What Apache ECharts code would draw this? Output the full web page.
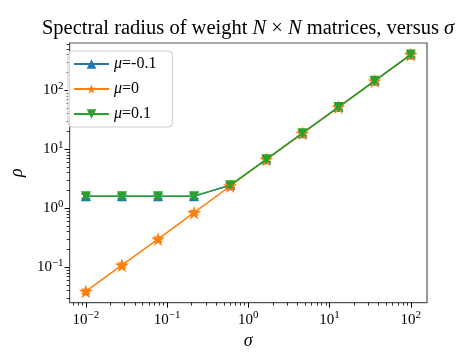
<!DOCTYPE html>
<html><head><meta charset="utf-8">
<script src="https://cdn.jsdelivr.net/npm/echarts@6/dist/echarts.min.js"></script>
<style>html,body{margin:0;padding:0;background:#fff}#c{width:474px;height:355px}</style>
</head><body><div id="c"></div>
<script>
const sigma = [0.01, 0.0278, 0.0774, 0.215, 0.599, 1.67, 4.64, 12.9, 35.9, 100];
const rhoMuNeg = [1.6, 1.6, 1.6, 1.6, 2.45, 6.75, 18.7, 51.8, 144, 402];
const rhoMu0 = [0.039, 0.108, 0.30, 0.84, 2.38, 6.7, 18.6, 51.6, 143, 400];
const rhoMuPos = [1.6, 1.6, 1.6, 1.6, 2.46, 6.75, 18.7, 51.8, 144, 402];
const errMuNeg = [0.14, 0.14, 0.14, 0.14, 0.22, 0.6, 1.7, 4.6, 13, 36];
const errMu0 = [0.0035, 0.01, 0.027, 0.075, 0.21, 0.6, 1.7, 4.6, 13, 36];
const errMuPos = [0.14, 0.14, 0.14, 0.14, 0.22, 0.6, 1.7, 4.6, 13, 36];
const seriesNames = ['μ=-0.1', 'μ=0', 'μ=0.1'];
const xMajor = [0.01, 0.1, 1, 10, 100];
const yMajor = [0.1, 1, 10, 100];

function minorTicks(lo, hi) {
  const out = [];
  for (let e = lo; e <= hi; e++) for (let k = 2; k <= 9; k++) out.push(k * Math.pow(10, e));
  return out;
}
const xMinor = minorTicks(-3, 2);
const yMinor = minorTicks(-2, 2);

const colors = ['#1f77b4', '#ff7f0e', '#2ca02c'];
const star = 'path://M0,-1 L0.2245,-0.309 L0.9511,-0.309 L0.3633,0.118 L0.5878,0.809 L0,0.382 L-0.5878,0.809 L-0.3633,0.118 L-0.9511,-0.309 L-0.2245,-0.309 Z';
const serif = 'Liberation Serif';
const mathRich = {
  b: {fontFamily: serif, fontSize: 15, color: '#000'},
  s: {fontFamily: serif, fontSize: 11, color: '#000', padding: [0, 0, 9, 0]}
};
function powLabel(v) {
  const e = Math.round(Math.log10(v));
  return '{b|10}{s|' + (e < 0 ? '\u2212' + (-e) : e) + '}';
}

const xmin = Math.pow(10, -2.2), xmax = Math.pow(10, 2.2);
const ymin = Math.pow(10, -1.6), ymax = Math.pow(10, 2.8);

function errSeries(vals, errs, color, idx) {
  return {
    type: 'custom', xAxisIndex: 0, yAxisIndex: 0, silent: true, z: 2 + idx * 2,
    data: sigma.map((s, i) => [s, vals[i], errs[i]]),
    renderItem: function (params, api) {
      const x = api.value(0), y = api.value(1), e = api.value(2);
      const lo = api.coord([x, y - e]), hi = api.coord([x, y + e]);
      const cw = 4.5;
      const st = {stroke: color, lineWidth: 1.2};
      return {type: 'group', children: [
        {type: 'line', shape: {x1: lo[0], y1: lo[1], x2: hi[0], y2: hi[1]}, style: st},
        {type: 'line', shape: {x1: lo[0] - cw, y1: lo[1], x2: lo[0] + cw, y2: lo[1]}, style: st},
        {type: 'line', shape: {x1: hi[0] - cw, y1: hi[1], x2: hi[0] + cw, y2: hi[1]}, style: st}
      ]};
    }
  };
}
function lineSeries(name, vals, color, symbol, rot, size, idx) {
  return {
    name: name, type: 'line', xAxisIndex: 0, yAxisIndex: 0, z: 3 + idx * 2,
    data: sigma.map((s, i) => [s, vals[i]]),
    symbol: symbol, symbolRotate: rot, symbolSize: size, showSymbol: true,
    lineStyle: {color: color, width: 1.5},
    itemStyle: {color: color, borderWidth: 0},
    emphasis: {disabled: true}, animation: false
  };
}

const chart = echarts.init(document.getElementById('c'), null, {renderer: 'canvas'});
const axisCommon = {
  type: 'log', logBase: 10,
  splitLine: {show: false}, minorTick: {show: false}, minorSplitLine: {show: false}
};
chart.setOption({
  animation: false,
  backgroundColor: '#fff',
  color: colors,
  title: {
    text: 'Spectral radius of weight {i|N} × {i|N} matrices, versus {i|σ}',
    left: 243, top: 13, textAlign: 'center',
    textStyle: {fontFamily: serif, fontSize: 20.5, fontWeight: 'normal', color: '#000',
      rich: {i: {fontFamily: serif, fontSize: 20.5, fontStyle: 'italic', color: '#000'}}}
  },
  legend: {
    data: seriesNames, left: 68, top: 51, orient: 'vertical',
    itemWidth: 35, itemHeight: 12, itemGap: 9,
    padding: [5, 16, 5, 5],
    borderColor: '#cccccc', borderWidth: 1, borderRadius: 4,
    backgroundColor: 'rgba(255,255,255,0.8)',
    formatter: function (n) { return '{i|μ}' + n.slice(1); },
    textStyle: {fontFamily: serif, fontSize: 16, color: '#000',
      rich: {i: {fontFamily: serif, fontSize: 16, fontStyle: 'italic', color: '#000'}}}
  },
  grid: {left: 59, right: 47, top: 43, bottom: 41, show: true, borderColor: '#555', borderWidth: 1.2, containLabel: false},
  xAxis: [
    Object.assign({}, axisCommon, {
      min: xmin, max: xmax, position: 'bottom',
      name: 'σ', nameLocation: 'middle', nameGap: 27,
      nameTextStyle: {fontFamily: serif, fontSize: 18, fontStyle: 'italic', color: '#000'},
      axisLine: {show: false},
      axisTick: {show: true, inside: false, length: 5, customValues: xMajor, lineStyle: {color: '#000', width: 1}},
      axisLabel: {show: true, margin: 7, customValues: xMajor, formatter: powLabel, rich: mathRich}
    }),
    Object.assign({}, axisCommon, {
      min: xmin, max: xmax, position: 'bottom', offset: 0,
      axisLine: {show: false},
      axisTick: {show: true, inside: false, length: 3, customValues: xMinor, lineStyle: {color: '#000', width: 0.8}},
      axisLabel: {show: false}
    })
  ],
  yAxis: [
    Object.assign({}, axisCommon, {
      min: ymin, max: ymax, position: 'left',
      name: 'ρ', nameLocation: 'middle', nameGap: 40, nameRotate: 90,
      nameTextStyle: {fontFamily: serif, fontSize: 18, fontStyle: 'italic', color: '#000'},
      axisLine: {show: false},
      axisTick: {show: true, inside: false, length: 5, customValues: yMajor, lineStyle: {color: '#000', width: 1}},
      axisLabel: {show: true, margin: 6, customValues: yMajor, formatter: powLabel, rich: mathRich}
    }),
    Object.assign({}, axisCommon, {
      min: ymin, max: ymax, position: 'left', offset: 0,
      axisLine: {show: false},
      axisTick: {show: true, inside: false, length: 3, customValues: yMinor, lineStyle: {color: '#000', width: 0.8}},
      axisLabel: {show: false}
    })
  ],
  series: [
    errSeries(rhoMuNeg, errMuNeg, colors[0], 0),
    lineSeries(seriesNames[0], rhoMuNeg, colors[0], 'triangle', 0, 10, 0),
    errSeries(rhoMu0, errMu0, colors[1], 1),
    lineSeries(seriesNames[1], rhoMu0, colors[1], star, 0, 14, 1),
    errSeries(rhoMuPos, errMuPos, colors[2], 2),
    lineSeries(seriesNames[2], rhoMuPos, colors[2], 'triangle', 180, 10, 2)
  ]
});
</script></body></html>
